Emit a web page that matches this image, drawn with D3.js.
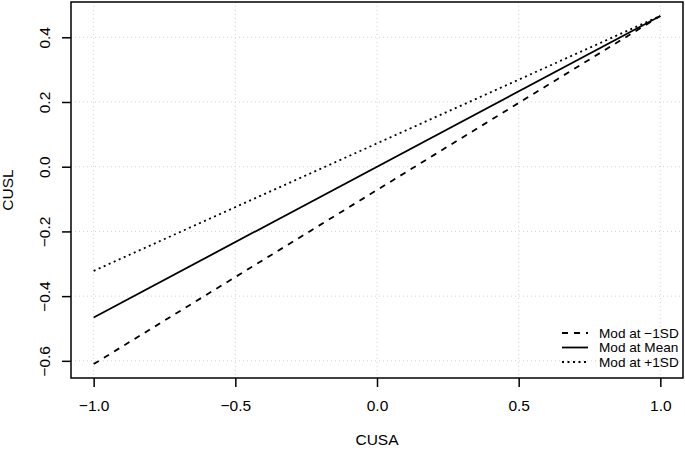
<!DOCTYPE html>
<html>
<head>
<meta charset="utf-8">
<script src="https://cdn.jsdelivr.net/npm/d3@7"></script>
<style>
  html, body { margin: 0; padding: 0; background: #fff; }
  svg text { font-family: 'Liberation Sans', Arial, Helvetica, sans-serif; fill: #000; }
</style>
</head>
<body>
<div id="chart"></div>
<script>
/* global d3 */

// data
const xValues = [-1, 1];
const seriesMinus = [-0.610, 0.466];
const seriesMean = [-0.466, 0.466];
const seriesPlus = [-0.322, 0.466];
const xTicks = [-1.0, -0.5, 0.0, 0.5, 1.0];
const yTicks = [-0.6, -0.4, -0.2, 0.0, 0.2, 0.4];
const legendLabels = ['Mod at \u22121SD', 'Mod at Mean', 'Mod at +1SD'];

// dimensions
const WIDTH = 685;
const HEIGHT = 452;
const MARGIN_LEFT = 71;
const MARGIN_RIGHT = 2;
const MARGIN_TOP = 2;
const MARGIN_BOTTOM = 74;
const TICK = 9;

const fmt = (d) => d3.format('.1f')(d).replace('-', '\u2212');

const series = [
  { name: legendLabels[0], values: seriesMinus, dash: '6,6' },
  { name: legendLabels[1], values: seriesMean, dash: null },
  { name: legendLabels[2], values: seriesPlus, dash: '2,3.5' },
];

const $svg = d3.select('#chart').append('svg')
  .attr('width', WIDTH)
  .attr('height', HEIGHT);

// scales, padded 4% like base R
const x0 = -1, x1 = 1;
const allY = seriesMinus.concat(seriesMean, seriesPlus);
const y0 = d3.min(allY), y1 = d3.max(allY);
const padX = (x1 - x0) * 0.04;
const padY = (y1 - y0) * 0.04;

const scaleX = d3.scaleLinear()
  .domain([x0 - padX, x1 + padX])
  .range([MARGIN_LEFT, WIDTH - MARGIN_RIGHT]);
const scaleY = d3.scaleLinear()
  .domain([y0 - padY, y1 + padY])
  .range([HEIGHT - MARGIN_BOTTOM, MARGIN_TOP]);

const boxLeft = scaleX.range()[0];
const boxRight = scaleX.range()[1];
const boxTop = scaleY.range()[1];
const boxBottom = scaleY.range()[0];

// grid
const $grid = $svg.append('g').attr('class', 'g-grid')
  .attr('stroke', '#d3d3d3')
  .attr('stroke-width', 1)
  .attr('stroke-dasharray', '1,3');
$grid.selectAll('.gx').data(xTicks).join('line')
  .attr('class', 'gx')
  .attr('x1', (d) => scaleX(d)).attr('x2', (d) => scaleX(d))
  .attr('y1', boxTop).attr('y2', boxBottom);
$grid.selectAll('.gy').data(yTicks).join('line')
  .attr('class', 'gy')
  .attr('x1', boxLeft).attr('x2', boxRight)
  .attr('y1', (d) => scaleY(d)).attr('y2', (d) => scaleY(d));

// lines
const line = d3.line()
  .x((d, i) => scaleX(xValues[i]))
  .y((d) => scaleY(d));

$svg.append('g').attr('class', 'g-vis')
  .selectAll('path').data(series).join('path')
  .attr('d', (d) => line(d.values))
  .attr('fill', 'none')
  .attr('stroke', '#000')
  .attr('stroke-width', 1.8)
  .attr('stroke-dasharray', (d) => d.dash);

// box
$svg.append('rect')
  .attr('x', boxLeft).attr('y', boxTop)
  .attr('width', boxRight - boxLeft).attr('height', boxBottom - boxTop)
  .attr('fill', 'none')
  .attr('stroke', '#000')
  .attr('stroke-width', 1.5);

// x axis
const $xAxis = $svg.append('g').attr('class', 'g-axis')
  .attr('transform', `translate(0, ${boxBottom})`)
  .call(d3.axisBottom(scaleX).tickValues(xTicks).tickFormat(fmt)
    .tickSize(TICK).tickSizeOuter(0).tickPadding(13));
$xAxis.select('.domain').remove();
$xAxis.selectAll('line').attr('stroke-width', 1.5);
$xAxis.selectAll('text').attr('font-size', '15.5px');
$xAxis.attr('font-family', null);

// y axis
const $yAxis = $svg.append('g').attr('class', 'g-axis')
  .attr('transform', `translate(${boxLeft}, 0)`)
  .call(d3.axisLeft(scaleY).tickValues(yTicks).tickFormat(fmt)
    .tickSize(TICK).tickSizeOuter(0));
$yAxis.select('.domain').remove();
$yAxis.attr('font-family', null);
$yAxis.selectAll('line').attr('stroke-width', 1.5);
$yAxis.selectAll('text')
  .attr('font-size', '15.5px')
  .attr('text-anchor', 'middle')
  .attr('x', 0).attr('dy', null)
  .attr('transform', `translate(${44 - boxLeft}, 0) rotate(-90) translate(0, 5.5)`);

// axis titles
$svg.append('text')
  .attr('x', scaleX(0)).attr('y', 445)
  .attr('text-anchor', 'middle')
  .attr('font-size', '15.5px')
  .text('CUSA');
$svg.append('text')
  .attr('transform', `translate(13, ${(boxTop + boxBottom) / 2}) rotate(-90)`)
  .attr('text-anchor', 'middle')
  .attr('font-size', '15.5px')
  .text('CUSL');

// legend
const $legend = $svg.append('g').attr('class', 'g-legend')
  .attr('transform', 'translate(562, 333)');
const $item = $legend.selectAll('g').data(series).join('g')
  .attr('transform', (d, i) => `translate(0, ${i * 14.5})`);
$item.append('line')
  .attr('x1', 0).attr('x2', 26)
  .attr('stroke', '#000')
  .attr('stroke-width', 1.8)
  .attr('stroke-dasharray', (d) => d.dash);
$item.append('text')
  .attr('x', 37).attr('dy', '0.35em')
  .attr('font-size', '13.6px')
  .text((d) => d.name);
</script>
</body>
</html>
